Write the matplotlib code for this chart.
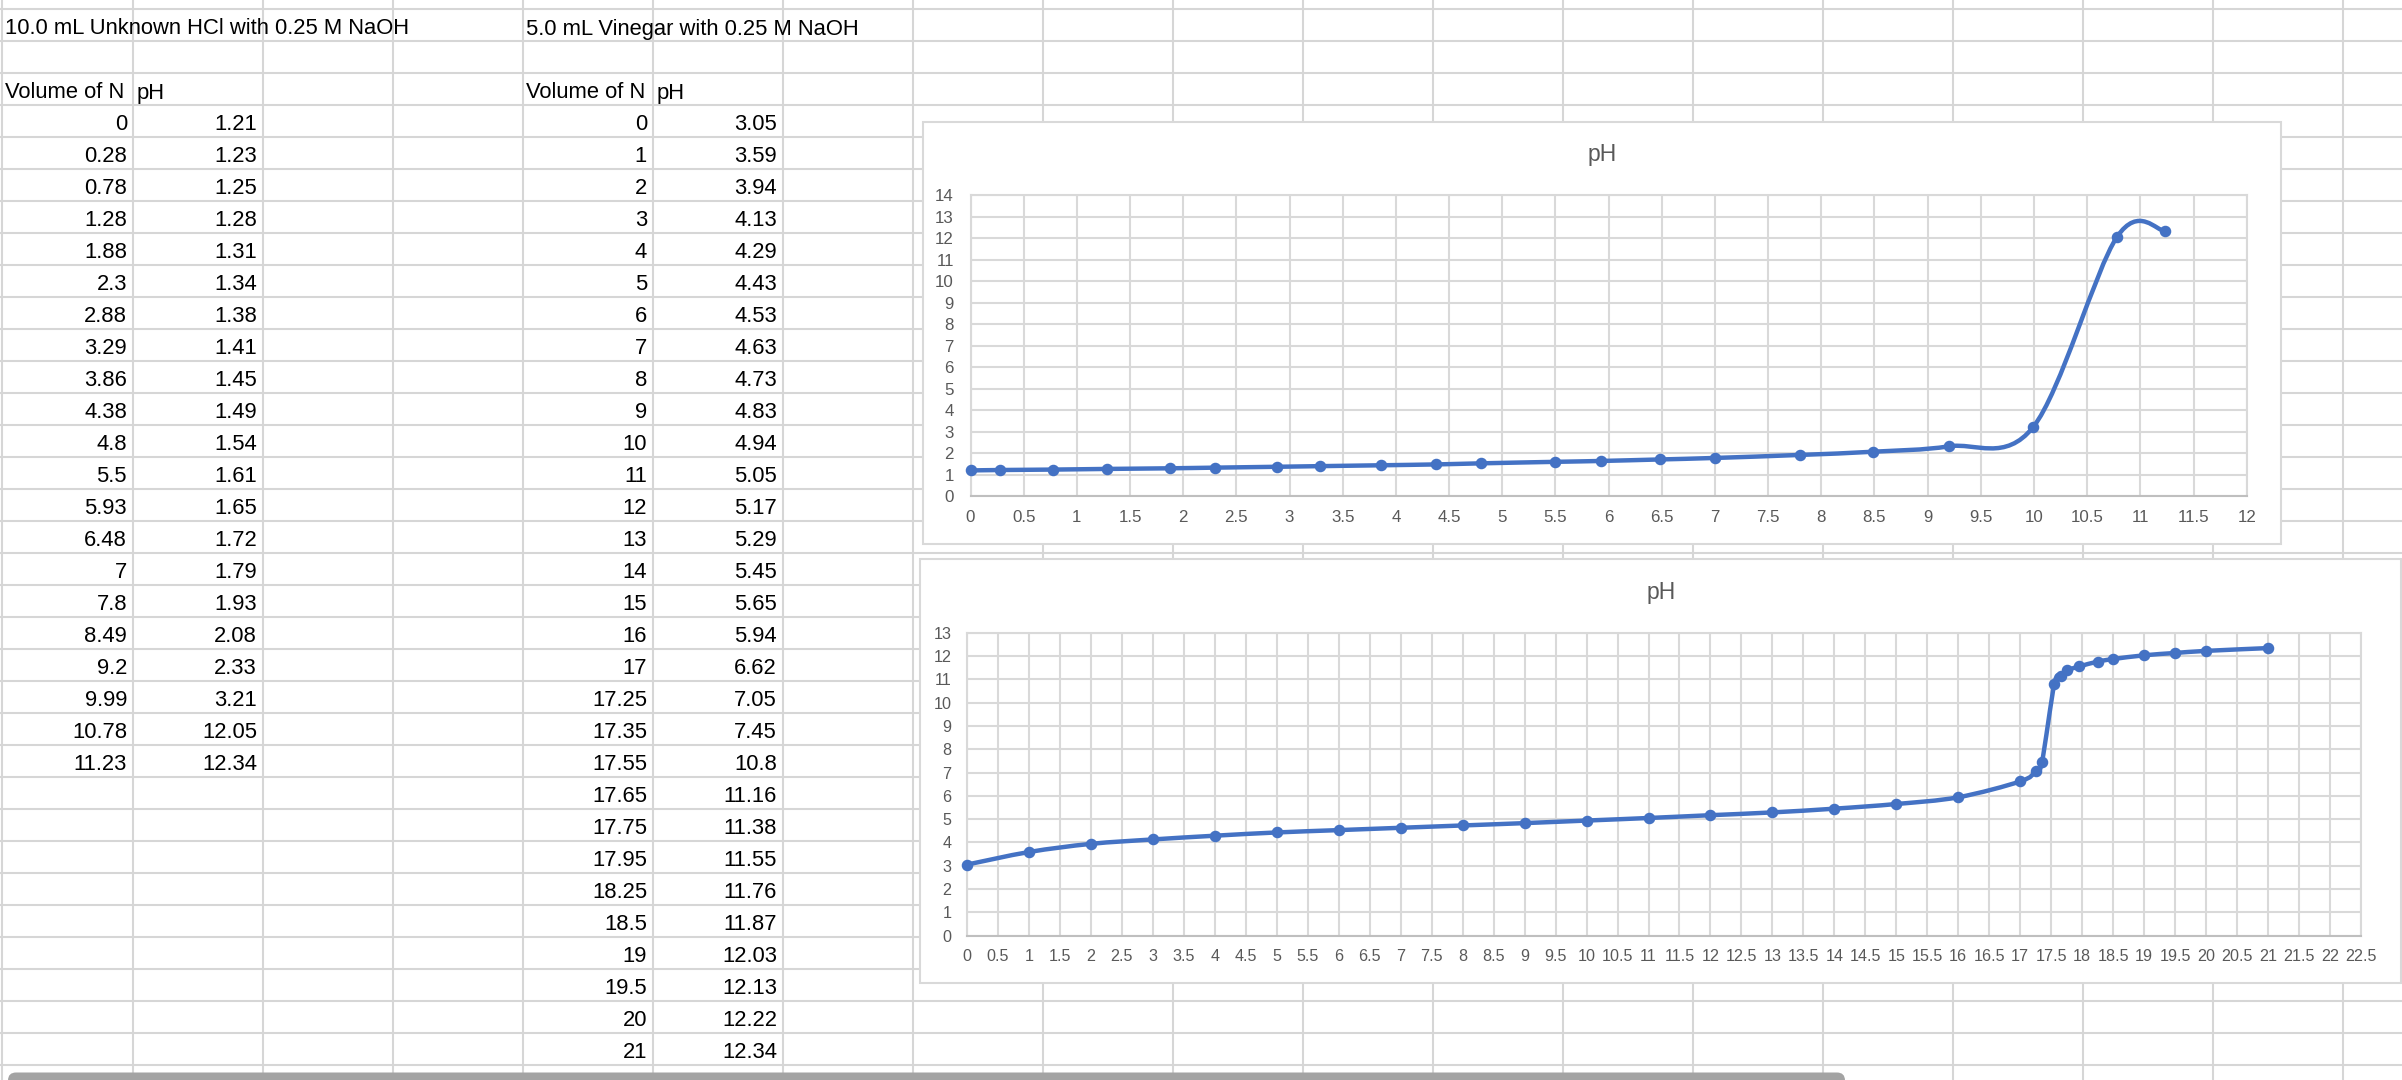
import numpy as np
import matplotlib.pyplot as plt
from matplotlib.path import Path
from matplotlib.patches import PathPatch, Rectangle, FancyBboxPatch

plt.rcParams['font.family'] = ['Liberation Sans', 'DejaVu Sans']

# sheet contents
hcl_title = '10.0 mL Unknown HCl with 0.25 M NaOH'
vin_title = '5.0 mL Vinegar with 0.25 M NaOH'
col_heads = ['Volume of N', 'pH']

hcl_vol = [0, 0.28, 0.78, 1.28, 1.88, 2.3, 2.88, 3.29, 3.86, 4.38, 4.8,
           5.5, 5.93, 6.48, 7, 7.8, 8.49, 9.2, 9.99, 10.78, 11.23]
hcl_ph = [1.21, 1.23, 1.25, 1.28, 1.31, 1.34, 1.38, 1.41, 1.45, 1.49, 1.54,
          1.61, 1.65, 1.72, 1.79, 1.93, 2.08, 2.33, 3.21, 12.05, 12.34]

vin_vol = [0, 1, 2, 3, 4, 5, 6, 7, 8, 9, 10, 11, 12, 13, 14, 15, 16, 17,
           17.25, 17.35, 17.55, 17.65, 17.75, 17.95, 18.25, 18.5, 19, 19.5, 20, 21]
vin_ph = [3.05, 3.59, 3.94, 4.13, 4.29, 4.43, 4.53, 4.63, 4.73, 4.83, 4.94,
          5.05, 5.17, 5.29, 5.45, 5.65, 5.94, 6.62, 7.05, 7.45, 10.8, 11.16,
          11.38, 11.55, 11.76, 11.87, 12.03, 12.13, 12.22, 12.34]

chart_title = 'pH'

W, H = 2402, 1080
BLUE = '#4472C4'
GRID = '#d6d6d6'
TICK = '#595959'

fig = plt.figure(figsize=(W/100, H/100), dpi=100)
bg = fig.add_axes([0, 0, 1, 1])
bg.set_xlim(0, W)
bg.set_ylim(H, 0)
bg.axis('off')

# spreadsheet cell grid
col_x = [1.7] + [133 + 130*k for k in range(18)]
row_y = [8.5 + 32*k for k in range(34)]
for x in col_x:
    bg.plot([x, x], [0, H], color=GRID, lw=1.5, zorder=1)
for y in row_y:
    bg.plot([0, W], [y, y], color=GRID, lw=1.5, zorder=1)

FS = 15.8
def cell(col, row, s, align='left'):
    # row: index of the row line above the cell
    base = row_y[row+1] - 6
    if align == 'left':
        bg.text(col_x[col] + 3.5, base, s, fontsize=FS, ha='left', va='baseline', zorder=2)
    else:
        bg.text(col_x[col+1] - 6, base, s, fontsize=FS, ha='right', va='baseline', zorder=2)

cell(0, 0, hcl_title)
cell(4, 0, vin_title)
cell(0, 2, col_heads[0]); cell(1, 2, col_heads[1])
cell(4, 2, col_heads[0]); cell(5, 2, col_heads[1])
for i in range(len(hcl_vol)):
    cell(0, 3+i, '%g' % hcl_vol[i], 'right')
    cell(1, 3+i, '%g' % hcl_ph[i], 'right')
for i in range(len(vin_vol)):
    cell(4, 3+i, '%g' % vin_vol[i], 'right')
    cell(5, 3+i, '%g' % vin_ph[i], 'right')

# horizontal scroll bar
bg.add_patch(FancyBboxPatch((8, 1072.5), 1837, 20, boxstyle='round,pad=0,rounding_size=8',
                            fc='#a3a3a3', ec='none', zorder=8))


def smooth_path(x, y):
    # excel-like smoothed line: cubic bezier through the points
    p = np.column_stack([x, y]).astype(float)
    n = len(p)
    verts = [p[0]]
    codes = [Path.MOVETO]
    for i in range(n-1):
        p0 = p[i-1] if i > 0 else p[i]
        p3 = p[i+2] if i+2 < n else p[i+1]
        c1 = p[i] + (p[i+1]-p0)/6
        c2 = p[i+1] - (p3-p[i])/6
        verts += [c1, c2, p[i+1]]
        codes += [Path.CURVE4]*3
    return Path(verts, codes)


def chart(box, plot, xs, ys, xmax, ymax, title_y, fs_tick, xpad, ypad):
    bx0, by0, bx1, by1 = box
    bg.add_patch(Rectangle((bx0, by0), bx1-bx0, by1-by0, fc='white', ec='#d9d9d9',
                           lw=1.5, zorder=5))
    bg.text((bx0+bx1)/2, title_y, chart_title, fontsize=16.5, color=TICK,
            ha='center', va='baseline', zorder=6)
    px0, py0, px1, py1 = plot
    ax = fig.add_axes([px0/W, 1-py1/H, (px1-px0)/W, (py1-py0)/H])
    ax.set_facecolor('white')
    ax.set_xlim(0, xmax)
    ax.set_ylim(0, ymax)
    ax.set_xticks(np.arange(0, xmax+0.01, 0.5))
    ax.set_xticklabels(['%g' % v for v in np.arange(0, xmax+0.01, 0.5)])
    ax.set_yticks(range(0, ymax+1))
    ax.grid(True, color='#d9d9d9', lw=1.5)
    ax.set_axisbelow(True)
    for s in ax.spines.values():
        s.set_color('#d9d9d9')
        s.set_linewidth(1.5)
    ax.spines['bottom'].set_color('#bfbfbf')
    ax.tick_params(length=0, labelsize=fs_tick, labelcolor=TICK)
    ax.tick_params(axis='x', pad=xpad)
    ax.tick_params(axis='y', pad=ypad)
    ax.add_patch(PathPatch(smooth_path(xs, ys), fill=False, ec=BLUE, lw=3.2,
                           capstyle='round', joinstyle='round', zorder=3))
    ax.plot(xs, ys, 'o', color=BLUE, ms=7.3, mec=BLUE, zorder=4, clip_on=False)
    return ax


ax1 = chart((923, 121.7, 2281, 544), (970.5, 195, 2246.7, 496.5),
            hcl_vol, hcl_ph, 12, 14, 161, 12.2, 10, 12)
ax2 = chart((920.4, 559, 2401, 983), (967, 632.7, 2361, 935.7),
            vin_vol, vin_ph, 22.5, 13, 599, 11.6, 9.5, 11)

fig.savefig('out.png', dpi=100)
